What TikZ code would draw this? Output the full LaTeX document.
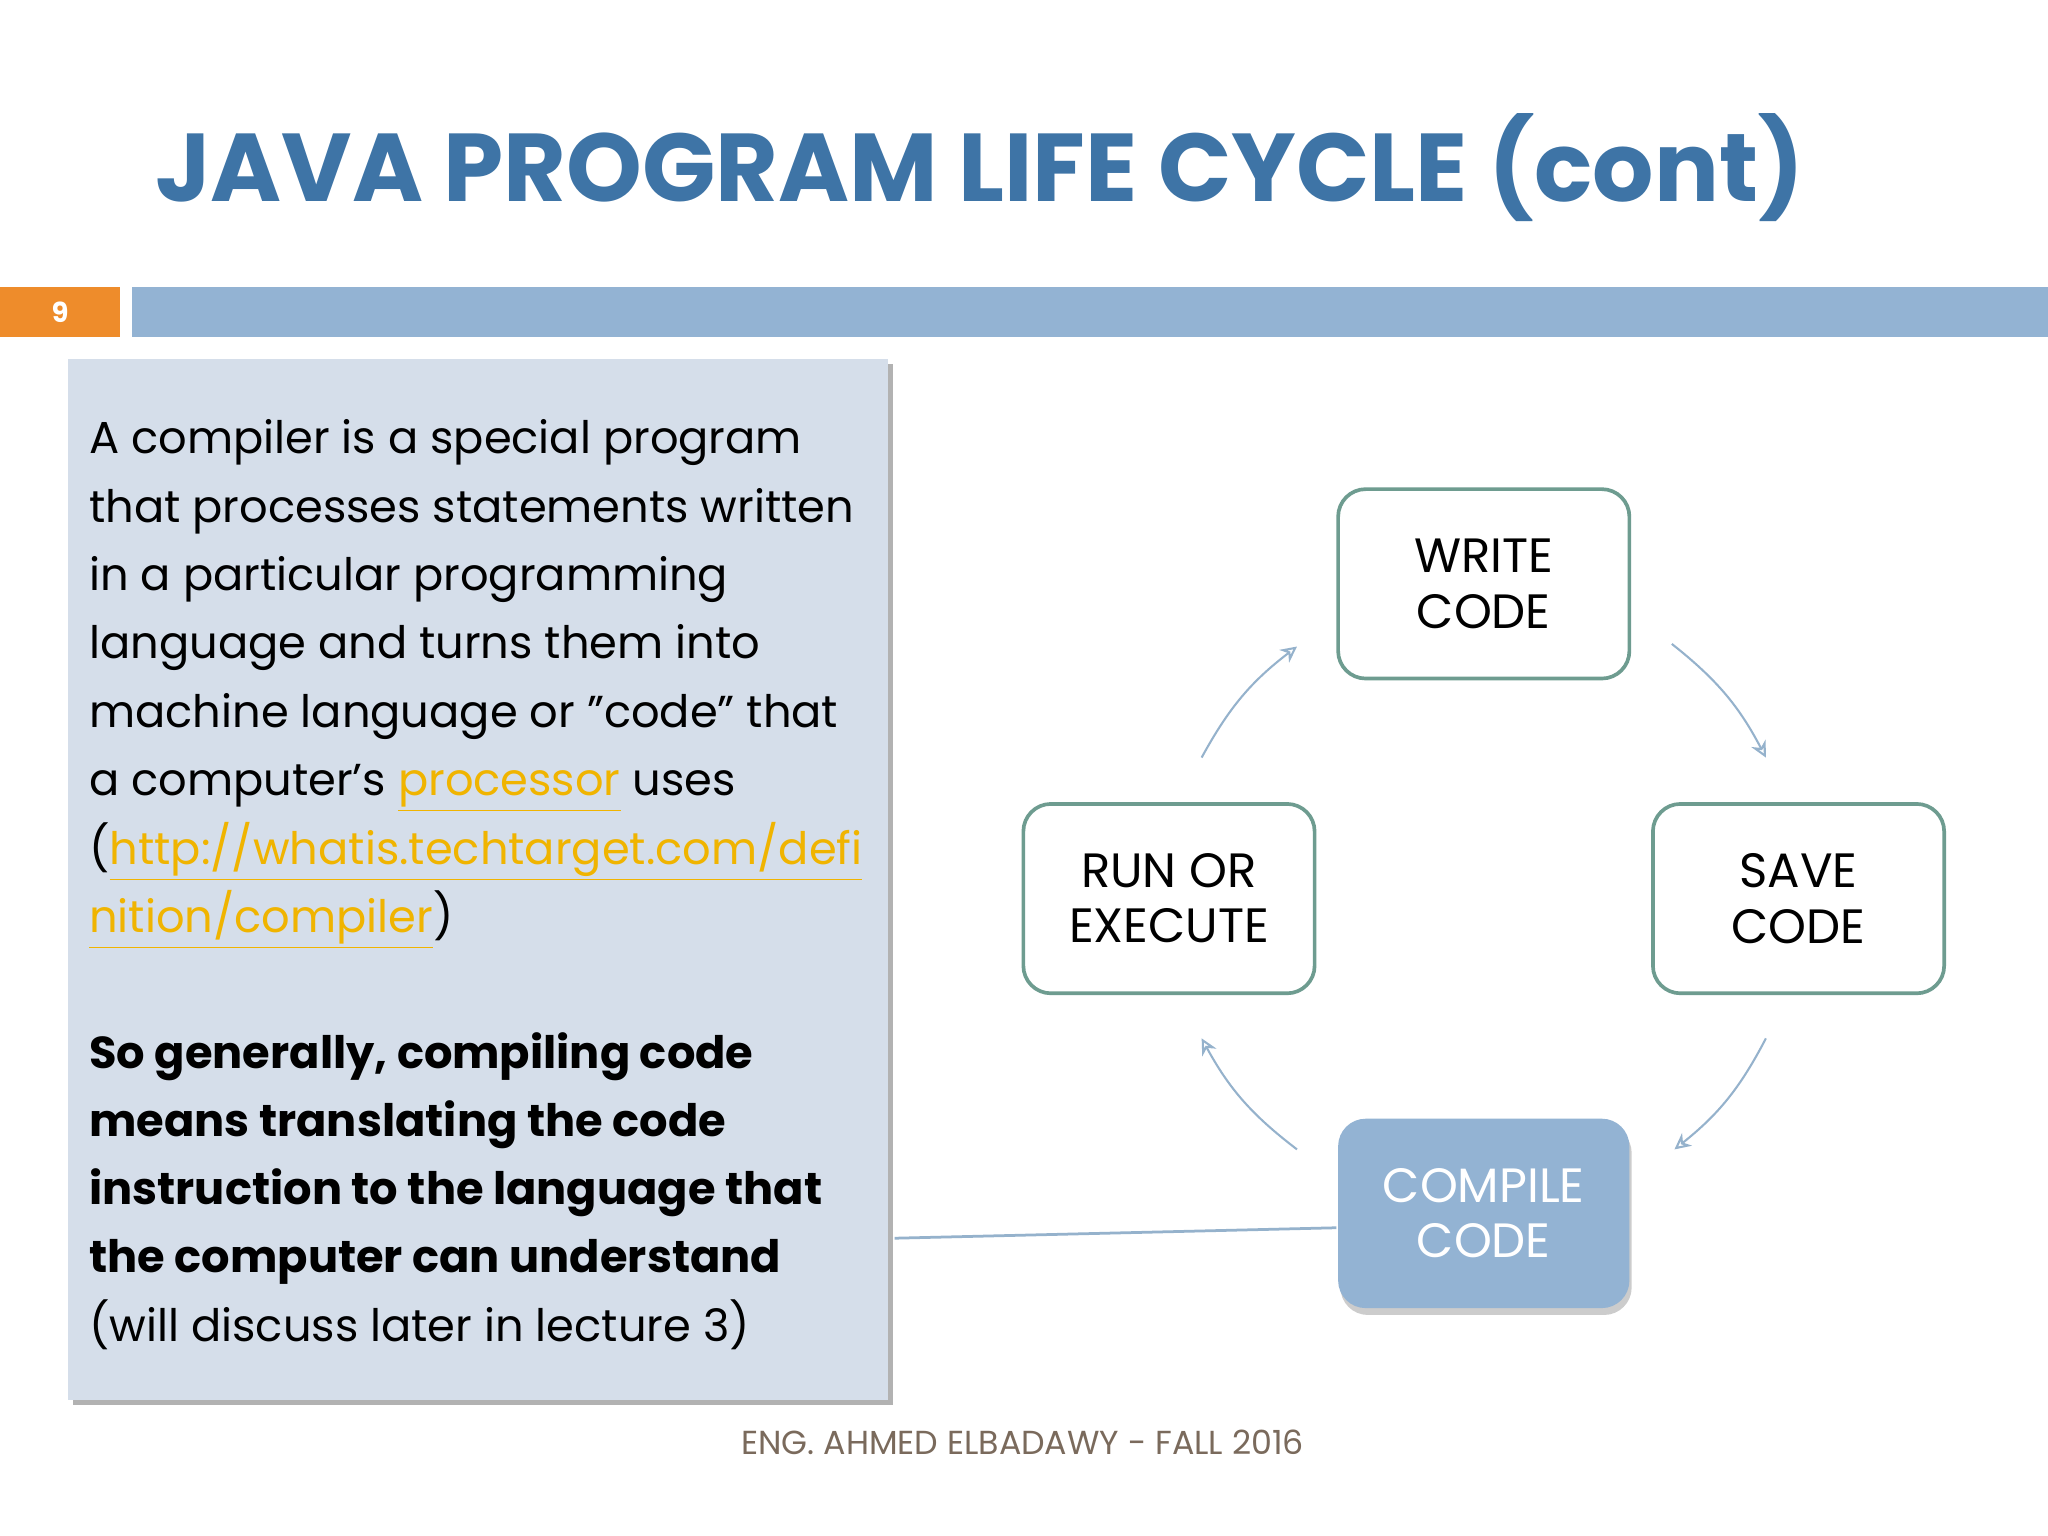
\documentclass[tikz,border=0pt]{standalone}
\usepackage{fontspec}
\setmainfont{Poppins}
\usetikzlibrary{shadows,arrows.meta,calc}
\definecolor{barblue}{HTML}{93B3D3}
\definecolor{boxfill}{HTML}{D5DEEA}
\definecolor{titleblue}{HTML}{3E74A6}
\definecolor{linkc}{HTML}{F0B400}
\definecolor{edgec}{HTML}{6E9C90}
\definecolor{arrc}{HTML}{95B2CC}
\definecolor{footc}{HTML}{7A6A5C}
\tikzset{
 stepbox/.style={draw=edgec,line width=1.6pt,rounded corners=12pt,fill=white,minimum width=223*0.02cm,minimum height=145*0.02cm,align=center,font=\fontsize{21}{24}\selectfont,inner sep=0pt},
 cyc/.style={-{Stealth[open,length=7pt,width=7pt]},arrc,line width=0.9pt},
 body/.style={anchor=base west,font=\fontsize{19.5}{23}\selectfont,inner sep=0pt}
}
\begin{document}
\begin{tikzpicture}[x=0.02cm,y=-0.02cm]
\useasboundingbox (0,0) rectangle (1568,1176);
\fill[white] (0,0) rectangle (1568,1176);
\node[font=\fontsize{42}{46}\selectfont\bfseries,text=titleblue] (title) at (750,128) {JAVA PROGRAM LIFE CYCLE (cont)};
\fill[orange!70!brown!90] (0,220) rectangle (92,258);
\node[font=\fontsize{12}{14}\selectfont\bfseries,text=white] (num) at (46,239) {9};
\fill[barblue] (101,220) rectangle (1568,258);
\fill[gray!60] (56,279) rectangle (684,1076);
\fill[boxfill] (52,275) rectangle (680,1072);
\coordinate (boxedge) at (685,948);
\foreach \t/\y in {{A compiler is a special program}/347,{that processes statements written}/400,{in a particular programming}/452,{language and turns them into}/504}
 \node[body] at (68,\y) {\t};
\node[body] (l5) at (68,557) {machine language or \symbol{34}code\symbol{34} that};
\node[body] (l6) at (68,609) {a computer\symbol{39}s \textcolor{linkc}{\underline{processor}} uses};
\node[body] (l7) at (68,662) {(\textcolor{linkc}{\underline{http://whatis.techtarget.com/defi}}};
\node[body] (l8) at (68,714) {\textcolor{linkc}{\underline{nition/compiler}})};
\foreach \t/\y in {{So generally, compiling code}/818,{means translating the code}/870,{instruction to the language that}/922,{the computer can understand}/974}
 \node[body,font=\fontsize{19.5}{23}\selectfont\bfseries] at (68,\y) {\t};
\node[body] (l13) at (68,1027) {(will discuss later in lecture 3)};
\node[font=\fontsize{14.5}{17}\selectfont,text=footc] (foot) at (783,1104) {ENG. AHMED ELBADAWY - FALL 2016};
\node[stepbox] (write) at (1136,447) {WRITE\\CODE};
\node[stepbox] (run) at (895,688) {RUN OR\\EXECUTE};
\node[stepbox] (save) at (1377,688) {SAVE\\CODE};
\node[stepbox,draw=none,fill=barblue,text=white,drop shadow={shadow xshift=1pt,shadow yshift=-3pt,opacity=0.4}] (comp) at (1136,929) {COMPILE\\CODE};
\coordinate (a1) at (920,580); \coordinate (a2) at (993,495);
\coordinate (b1) at (1280,493); \coordinate (b2) at (1352,580);
\coordinate (c1) at (1352,795); \coordinate (c2) at (1282,880);
\coordinate (d1) at (993,880); \coordinate (d2) at (920,795);
\draw[cyc] (a1) to[bend left=12] (a2);
\draw[cyc] (b1) to[bend left=12] (b2);
\draw[cyc] (c1) to[bend left=12] (c2);
\draw[cyc] (d1) to[bend left=12] (d2);
\draw[arrc,line width=1.2pt] (boxedge) -- ($(comp.west)+(0,11)$);
\end{tikzpicture}
\end{document}
